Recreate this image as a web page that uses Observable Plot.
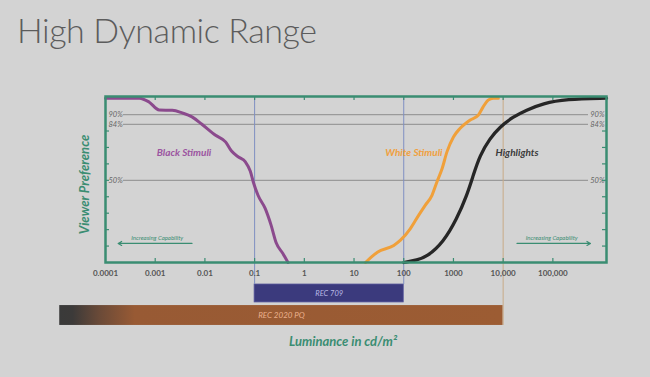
<!DOCTYPE html>
<html>
<head>
<meta charset="utf-8">
<script src="https://cdn.jsdelivr.net/npm/d3@7"></script>
<script src="https://cdn.jsdelivr.net/npm/@observablehq/plot@0.6"></script>
<style>
  html, body { margin: 0; padding: 0; background: #d3d3d3; width: 650px; height: 377px; overflow: hidden; }
  #title { height: 60px; box-sizing: border-box; padding: 13px 0 0 17px; font-family: "Segoe UI Light", Lato, "Open Sans", sans-serif; font-weight: 300; font-size: 34px; line-height: 33px; color: #5c5c5c; letter-spacing: -0.4px; }
  #chart svg { display: block; }
</style>
</head>
<body>
<div id="title">High Dynamic Range</div>
<div id="chart"></div>
<script>
// ---- data ----
const decades = [1e-4, 1e-3, 1e-2, 1e-1, 1, 10, 100, 1000, 1e4, 1e5];
const tickLabels = ["0.0001", "0.001", "0.01", "0.1", "1", "10", "100", "1000", "10,000", "100,000"];
const pctTicks = [10, 20, 30, 40, 50, 60, 70, 80];
const pctLines = [90, 84, 50];
const pctLabels = ["90%", "84%", "50%"];

const blackX = [1e-4, 4.8e-4, 7.5e-4, 1.2e-3, 2.2e-3, 3.5e-3, 5.5e-3, 8.7e-3, 0.0164, 0.026, 0.0343, 0.0473, 0.0652, 0.082, 0.094, 0.117, 0.163, 0.215, 0.27, 0.37, 0.47];
const blackY = [100, 100, 97.7, 92.8, 92.6, 91, 88.6, 84.1, 77.4, 73.4, 67.8, 64.2, 61.2, 55.5, 49, 40.9, 32.9, 22.6, 12.2, 5.5, 0];

const whiteX = [17, 29.5, 63, 85, 135, 199, 270, 370, 465, 590, 740, 1000, 1350, 2140, 3150, 3960, 5000, 6300, 8000];
const whiteY = [0, 6.3, 10.4, 13.4, 20.5, 28.7, 34.8, 40.9, 49, 57, 67.3, 76.4, 81.5, 86.6, 89.6, 94.7, 98.8, 100, 100];

const highX = [100, 186, 293, 630, 1170, 1870, 2500, 3400, 5400, 8550, 15800, 29000, 63000, 182000, 1.2e6];
const highY = [0, 1.5, 3.5, 12.4, 26.6, 40.9, 53, 65.2, 75.4, 82.5, 88.6, 92.7, 96.8, 99.4, 100];

const gamutNames = ["REC 709", "REC 2020 PQ"];
const gamutLow = [0.1, 1.2e-5];
const gamutHigh = [100, 10000];

const seriesNames = ["Black Stimuli", "White Stimuli", "Highlights"];

// ---- build tables ----
const toPts = (xs, ys) => xs.map((x, i) => ({x, y: ys[i]}));
const blackPts = toPts(blackX, blackY);
const whitePts = toPts(whiteX, whiteY);
const highPts = toPts(highX, highY);
const gamuts = gamutNames.map((name, i) => ({name, lo: gamutLow[i], hi: gamutHigh[i], mid: Math.sqrt(gamutLow[i] * gamutHigh[i])}));
const pctRows = pctLines.map((v, i) => ({v, label: pctLabels[i]}));

const green = "#3a8d72";
const W = 650, H = 317, mT = 36, mR = 44, mB = 115, mL = 105;
const frameW = W - mL - mR, frameH = H - mT - mB;
const font = "Lato, 'Open Sans', sans-serif";

const chart = Plot.plot({
  width: W, height: H,
  marginTop: mT, marginRight: mR, marginBottom: mB, marginLeft: mL,
  style: {background: "transparent", fontFamily: font, overflow: "visible"},
  x: {type: "log", domain: [1e-4, 1.2e6], axis: null},
  y: {domain: [0, 101], axis: null},
  marks: [
    // percentage gridlines
    Plot.ruleY(pctRows, {y: "v", stroke: "#9a9a9a", strokeWidth: 1.2, insetLeft: 18, insetRight: 18}),
    Plot.text(pctRows, {y: "v", text: "label", frameAnchor: "left", dx: 3, textAnchor: "start", fontSize: 7.5, fontStyle: "italic", fill: "#666"}),
    Plot.text(pctRows, {y: "v", text: "label", frameAnchor: "right", dx: -2, textAnchor: "end", fontSize: 7.5, fontStyle: "italic", fill: "#666"}),
    // gamut bars
    Plot.rect(gamuts.slice(0, 1), {x1: "lo", x2: "hi", y1: -13.4, y2: -24.3, fill: "#3b3a7d", stroke: "#55559a", strokeWidth: 0.8}),
    Plot.rect(gamuts.slice(1), {x1: "lo", x2: "hi", y1: -26.2, y2: -38.3, fill: "url(#pqgrad)"}),
    Plot.text(gamuts.slice(0, 1), {x: "mid", y: -18.9, text: "name", fill: "#b9b9e6", fontSize: 7.5, fontStyle: "italic"}),
    Plot.text(gamuts.slice(1), {x: "mid", y: -32.2, text: "name", fill: "#eab08c", fontSize: 8, fontStyle: "italic"}),
    // vertical reference lines
    Plot.ruleX(gamuts.slice(0, 1), {x: "lo", y1: 101, y2: -13.4, stroke: "#7f8fc2", strokeWidth: 1}),
    Plot.ruleX(gamuts.slice(0, 1), {x: "hi", y1: 101, y2: -13.4, stroke: "#7f8fc2", strokeWidth: 1}),
    Plot.ruleX(gamuts.slice(1), {x: "hi", y1: 101, y2: -38.3, stroke: "#c9ab88", strokeWidth: 1}),
    // curves
    Plot.line(blackPts, {x: "x", y: "y", stroke: "#8b4a8d", strokeWidth: 3, curve: "monotone-x"}),
    Plot.line(whitePts, {x: "x", y: "y", stroke: "#f0a03a", strokeWidth: 3, curve: "monotone-x"}),
    Plot.line(highPts, {x: "x", y: "y", stroke: "#262626", strokeWidth: 3.3, curve: "basis"}),
    // series labels
    Plot.text([seriesNames[0]], {x: () => 0.0038, y: () => 67, text: d => d, fill: "#9b55a0", fontSize: 10, fontWeight: "bold", fontStyle: "italic"}),
    Plot.text([seriesNames[1]], {x: () => 160, y: () => 67, text: d => d, fill: "#f0a040", fontSize: 10, fontWeight: "bold", fontStyle: "italic"}),
    Plot.text([seriesNames[2]], {x: () => 19000, y: () => 67, text: d => d, fill: "#3a3a3a", fontSize: 10, fontWeight: "bold", fontStyle: "italic"}),
    // increasing capability
    Plot.arrow([0], {x1: () => 5.5e-3, x2: () => 1.8e-4, y1: () => 11.6, y2: () => 11.6, stroke: green, strokeWidth: 1.2, headLength: 5}),
    Plot.arrow([0], {x1: () => 1.9e4, x2: () => 5.7e5, y1: () => 11.6, y2: () => 11.6, stroke: green, strokeWidth: 1.2, headLength: 5}),
    Plot.text(["Increasing Capability"], {x: () => 1.1e-3, y: () => 15, text: d => d, fill: green, fontSize: 6, fontStyle: "italic"}),
    Plot.text(["Increasing Capability"], {x: () => 9.5e4, y: () => 15, text: d => d, fill: green, fontSize: 6, fontStyle: "italic"}),
    // frame and inward ticks
    Plot.frame({stroke: green, strokeWidth: 2.5}),
    Plot.tickX(decades.slice(1), {x: d => d, insetTop: frameH - 4, stroke: green, strokeWidth: 1.2}),
    Plot.tickX(decades.slice(1), {x: d => d, insetBottom: frameH - 4, stroke: green, strokeWidth: 1.2}),
    Plot.tickY(pctTicks, {y: d => d, insetRight: frameW - 4, stroke: green, strokeWidth: 1.2}),
    Plot.tickY(pctTicks, {y: d => d, insetLeft: frameW - 4, stroke: green, strokeWidth: 1.2}),
    // x tick labels
    Plot.text(decades, {x: d => d, text: (d, i) => tickLabels[i], frameAnchor: "bottom", dy: 13, fontSize: 8, fontWeight: "bold", fill: "#555"}),
    // axis titles
    Plot.text(["Viewer Preference"], {text: d => d, frameAnchor: "left", textAnchor: "middle", dx: -21, dy: 5, rotate: -90, fill: green, fontSize: 13, fontWeight: "bold", fontStyle: "italic"}),
    Plot.text(["Luminance in cd/m²"], {text: d => d, frameAnchor: "bottom", dx: -13, dy: 83, fill: green, fontSize: 13, fontWeight: "bold", fontStyle: "italic"})
  ]
});

const defs = d3.select(chart).insert("defs", ":first-child");
const grad = defs.append("linearGradient").attr("id", "pqgrad").attr("x1", 0).attr("x2", 1).attr("y1", 0).attr("y2", 0);
[[0, "#3a3a3a"], [0.03, "#3c3a39"], [0.09, "#6a4a38"], [0.17, "#985a34"], [1, "#9c5c33"]].forEach(([o, c]) =>
  grad.append("stop").attr("offset", o).attr("stop-color", c));

document.getElementById("chart").appendChild(chart);
</script>
</body>
</html>
